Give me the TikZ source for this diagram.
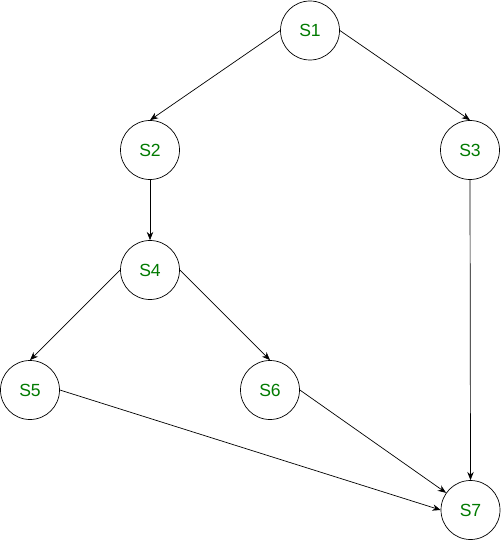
\documentclass[tikz,border=0pt]{standalone}
\usepackage{fontspec}
\setmainfont{Liberation Sans}
\usetikzlibrary{arrows.meta}
\definecolor{stategreen}{RGB}{0,122,0}
\begin{document}
\begin{tikzpicture}[x=0.03cm,y=-0.03cm,
		state/.style={draw,circle,minimum size=1.77cm,inner sep=0pt,line width=0.6pt,
			text=stategreen,font=\fontsize{15}{18}\selectfont},
		edge/.style={-{Stealth[length=7pt,width=5.5pt]},line width=0.6pt}]
		\useasboundingbox (0,0) rectangle (501,541);
		\node[state] (s1) at (310,30.5) {S1};
		\node[state] (s2) at (150,150) {S2};
		\node[state] (s3) at (470,150) {S3};
		\node[state] (s4) at (150,270) {S4};
		\node[state] (s5) at (30,390) {S5};
		\node[state] (s6) at (270,390) {S6};
		\node[state] (s7) at (470.5,510) {S7};
		\draw[edge] (s1.west) -- (s2.north);
		\draw[edge] (s1.east) -- (s3.north);
		\draw[edge] (s2.south) -- (s4.north);
		\draw[edge] (s3.south) -- (s7.north);
		\draw[edge] (s4.west) -- (s5.north);
		\draw[edge] (s4.east) -- (s6.north);
		\draw[edge] (s5.east) -- (s7.west);
		\draw[edge] (s6.east) -- (s7);
	\end{tikzpicture}
\end{document}
